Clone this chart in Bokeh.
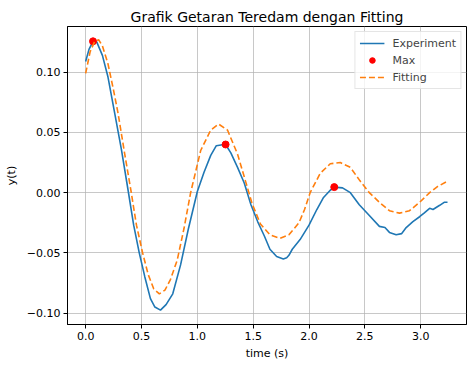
from bokeh.plotting import figure
from bokeh.models import Range1d, FixedTicker, Legend, LegendItem
from bokeh.embed import file_html
from bokeh.resources import INLINE

# ---- data ----
exp_t = [0.00, 0.03, 0.066, 0.10, 0.15, 0.20, 0.26, 0.32, 0.38, 0.43, 0.48, 0.53, 0.58,
         0.62, 0.67, 0.72, 0.78, 0.85, 0.92, 1.00, 1.06, 1.12, 1.17, 1.24, 1.253, 1.30,
         1.36, 1.42, 1.48, 1.54, 1.60, 1.65, 1.71, 1.77, 1.80, 1.82, 1.85, 1.92, 2.00,
         2.07, 2.13, 2.19, 2.226, 2.30, 2.37, 2.45, 2.54, 2.63, 2.68, 2.72, 2.78, 2.83,
         2.87, 2.93, 2.99, 3.03, 3.08, 3.11, 3.17, 3.21, 3.24]
exp_y = [0.109, 0.119, 0.1257, 0.125, 0.114, 0.096, 0.066, 0.036, 0.002, -0.027, -0.050,
         -0.070, -0.088, -0.095, -0.0976, -0.093, -0.084, -0.060, -0.030, 0.001, 0.017,
         0.031, 0.039, 0.040, 0.040, 0.033, 0.021, 0.008, -0.010, -0.024, -0.036, -0.047,
         -0.053, -0.055, -0.054, -0.052, -0.047, -0.039, -0.027, -0.014, -0.004, 0.002,
         0.0046, 0.004, 0.000, -0.010, -0.019, -0.028, -0.029, -0.033, -0.035, -0.034,
         -0.029, -0.024, -0.020, -0.017, -0.013, -0.014, -0.0105, -0.008, -0.008]

max_t = [0.066, 1.253, 2.226]
max_y = [0.1257, 0.040, 0.0046]

fit_t = [0.00, 0.04, 0.08, 0.116, 0.15, 0.20, 0.25, 0.29, 0.35, 0.405, 0.455, 0.51, 0.56,
         0.61, 0.66, 0.71, 0.76, 0.82, 0.88, 0.94, 1.03, 1.12, 1.19, 1.27, 1.36, 1.43,
         1.49, 1.565, 1.65, 1.74, 1.82, 1.91, 1.96, 2.01, 2.10, 2.19, 2.28, 2.37, 2.455,
         2.54, 2.63, 2.72, 2.81, 2.90, 2.99, 3.08, 3.15, 3.23]
fit_y = [0.099, 0.117, 0.1255, 0.127, 0.122, 0.107, 0.085, 0.066, 0.032, 0.002, -0.027,
         -0.050, -0.068, -0.080, -0.084, -0.081, -0.072, -0.056, -0.030, 0.000, 0.035,
         0.052, 0.057, 0.052, 0.032, 0.010, -0.009, -0.026, -0.035, -0.038, -0.035,
         -0.025, -0.014, 0.000, 0.016, 0.024, 0.025, 0.021, 0.010, 0.000, -0.008, -0.015,
         -0.017, -0.015, -0.008, 0.000, 0.005, 0.009]

x_ticks = [0.0, 0.5, 1.0, 1.5, 2.0, 2.5, 3.0]
x_tick_labels = ["0.0", "0.5", "1.0", "1.5", "2.0", "2.5", "3.0"]
y_ticks = [-0.10, -0.05, 0.0, 0.05, 0.10]
y_tick_labels = ["\u22120.10", "\u22120.05", "0.00", "0.05", "0.10"]

FONT = "DejaVu Sans"

p = figure(width=474, height=367, output_backend="svg", toolbar_location=None,
           x_range=Range1d(-0.1625, 3.41), y_range=Range1d(-0.1095, 0.138),
           min_border_left=67, min_border_right=8, min_border_top=26, min_border_bottom=43,
           title="Grafik Getaran Teredam dengan Fitting")

p.title.text_font = FONT
p.title.text_font_size = "14px"
p.title.text_font_style = "normal"
p.title.align = "center"
p.title.text_color = "black"
p.title.standoff = 4

p.outline_line_color = "black"
p.outline_line_width = 1
p.background_fill_color = "white"
p.border_fill_color = "white"

for ax in (p.xaxis[0], p.yaxis[0]):
    ax.axis_line_color = "black"
    ax.major_tick_line_color = "black"
    ax.major_tick_out = 4
    ax.major_tick_in = 0
    ax.minor_tick_line_color = None
    ax.major_label_text_font = FONT
    ax.major_label_text_font_size = "11px"
    ax.major_label_text_color = "black"
    ax.axis_label_text_font = FONT
    ax.axis_label_text_font_size = "11px"
    ax.axis_label_text_font_style = "normal"
    ax.axis_label_text_color = "black"
    ax.major_label_standoff = 3
    ax.axis_label_standoff = 4

p.xaxis[0].ticker = FixedTicker(ticks=x_ticks)
p.xaxis[0].major_label_overrides = {t: l for t, l in zip(x_ticks, x_tick_labels)}
p.yaxis[0].ticker = FixedTicker(ticks=y_ticks)
p.yaxis[0].major_label_overrides = {t: l for t, l in zip(y_ticks, y_tick_labels)}
p.xaxis[0].axis_label = "time (s)"
p.yaxis[0].axis_label = "y(t)"
p.yaxis[0].axis_label_standoff = 6

p.grid.grid_line_color = "#b0b0b0"
p.grid.grid_line_alpha = 0.7
p.grid.grid_line_width = 1

r_exp = p.line(exp_t, exp_y, line_color="#1f77b4", line_width=1.6)
r_max = p.scatter(max_t, max_y, size=7, fill_color="red", line_color="red")
r_fit = p.line(fit_t, fit_y, line_color="#ff7f0e", line_width=1.6, line_dash="6 3")

legend = Legend(items=[LegendItem(label="Experiment", renderers=[r_exp]),
                       LegendItem(label="Max", renderers=[r_max]),
                       LegendItem(label="Fitting", renderers=[r_fit])],
                location="top_right")
legend.margin = 5
legend.padding = 4
legend.spacing = 3
legend.glyph_width = 25
legend.glyph_height = 14
legend.label_standoff = 8
legend.label_text_font = FONT
legend.label_text_font_size = "11px"
legend.label_height = 14
legend.border_line_color = "#cccccc"
legend.border_line_width = 1
legend.background_fill_alpha = 0.8
p.add_layout(legend)

open("out.html", "w").write(file_html(p, INLINE))
